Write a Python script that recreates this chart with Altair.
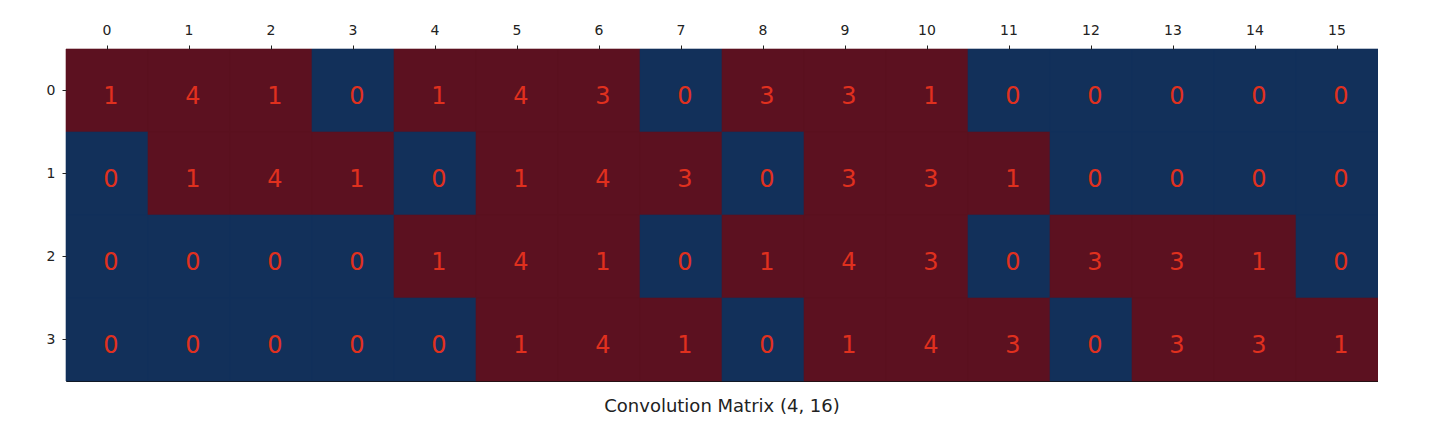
import altair as alt
import pandas as pd

columns = list(range(16))
rows = [0, 1, 2, 3]
row0 = [1, 4, 1, 0, 1, 4, 3, 0, 3, 3, 1, 0, 0, 0, 0, 0]
row1 = [0, 1, 4, 1, 0, 1, 4, 3, 0, 3, 3, 1, 0, 0, 0, 0]
row2 = [0, 0, 0, 0, 1, 4, 1, 0, 1, 4, 3, 0, 3, 3, 1, 0]
row3 = [0, 0, 0, 0, 0, 1, 4, 1, 0, 1, 4, 3, 0, 3, 3, 1]
matrix = [row0, row1, row2, row3]
title_text = "Convolution Matrix (4, 16)"

records = []
for r, vals in zip(rows, matrix):
    for c, v in zip(columns, vals):
        records.append({"row": r, "col": c, "value": v, "nz": "nonzero" if v != 0 else "zero"})
df = pd.DataFrame(records)

FONT = "DejaVu Sans"

base = alt.Chart(df)

x_enc = alt.X("col:O", sort=columns, scale=alt.Scale(paddingInner=0, paddingOuter=0),
              axis=alt.Axis(orient="top", title=None, labelAngle=0, labelFontSize=14,
                            labelFont=FONT, labelColor="#222222", tickColor="#222222",
                            tickSize=4, labelPadding=8, domain=False, grid=False))
y_enc = alt.Y("row:O", sort=rows, scale=alt.Scale(paddingInner=0, paddingOuter=0),
              axis=alt.Axis(title=None, labelFontSize=14, labelFont=FONT,
                            labelColor="#222222", tickColor="#222222", tickSize=4,
                            labelPadding=7, domain=False, grid=False))

color_scale = alt.Scale(domain=["zero", "nonzero"], range=["#12305a", "#5c1120"])

rect = base.mark_rect(strokeWidth=0.6).encode(
    x=x_enc,
    y=y_enc,
    color=alt.Color("nz:N", scale=color_scale, legend=None),
    stroke=alt.Stroke("nz:N", scale=color_scale, legend=None),
)

text = base.mark_text(font=FONT, fontSize=24, color="#e0301e", dx=4, dy=6,
                      baseline="middle", align="center").encode(
    x=alt.X("col:O", sort=columns),
    y=alt.Y("row:O", sort=rows),
    text="value:Q",
)

chart = (rect + text).properties(
    width=1312, height=332,
    padding={"left": 58, "top": 41, "right": 0, "bottom": 50},
    autosize=alt.AutoSizeParams(type="none"),
    title=alt.TitleParams(title_text, orient="bottom", font=FONT, fontSize=18,
                          fontWeight="normal", color="#222222", offset=17),
).configure_view(stroke="#111111", strokeWidth=1)

chart.save("out.html", embed_options={"renderer": "svg", "actions": False})
